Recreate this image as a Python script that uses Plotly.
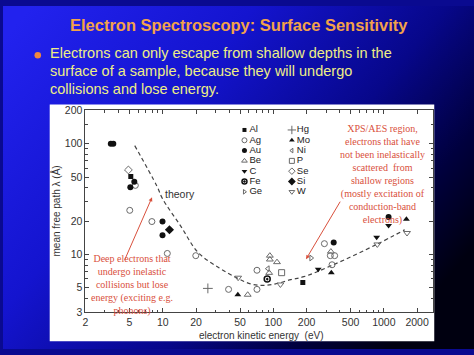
import base64
import math
import plotly.graph_objects as go

W, H = 474, 355

# ---------------- data ----------------
legend_col1 = ["Al", "Ag", "Au", "Be", "C", "Fe", "Ge"]
legend_col2 = ["Hg", "Mo", "Ni", "P", "Se", "Si", "W"]

al_energy = [5.14, 185]
al_path = [50.6, 5.57]
ag_energy = [5.65, 5.03, 7.98, 11.0, 19.9, 39.4, 71.2, 71.2, 290, 328, 359, 340]
ag_path = [42.0, 25.0, 19.8, 10.2, 9.74, 4.83, 7.19, 4.83, 12.5, 9.74, 9.74, 8.06]
au_energy = [3.39, 3.57, 5.53, 5.09, 9.95, 9.95, 352, 1104]
au_path = [100, 100, 45.2, 40.5, 19.8, 14.9, 12.8, 21.8]
be_energy = [58.7, 93.1, 93.1, 108, 91.8, 332]
be_path = [4.32, 9.74, 8.99, 8.51, 6.81, 10.6]
c_energy = [255, 861, 1104]
c_path = [7.34, 14.3, 18.2]
fe_energy = [88.1]
fe_path = [5.98]
ge_energy = [220]
ge_path = [9.28]
hg_energy = [25.6]
hg_path = [4.93]
mo_energy = [47.8, 335, 1600]
mo_path = [4.32, 6.81, 20.8]
ni_energy = [89.3]
ni_path = [7.43]
p_energy = [119]
p_path = [6.84]
se_energy = [4.89]
se_path = [57.9]
si_energy = [11.5]
si_path = [16.7]
w_energy = [48.1, 116, 873, 1621]
w_path = [6.16, 5.35, 12.3, 15.6]

theory_energy = [5.58, 8.85, 10.0, 14.5, 20.9, 32.5, 47.8, 62.9, 80.6, 105, 144, 189, 340, 861, 1545]
theory_path = [96, 41.4, 31.6, 18.1, 10.4, 7.54, 6.07, 5.40, 5.24, 5.42, 5.91, 6.29, 7.96, 12.3, 16.7]

x_tick_values = [2, 5, 10, 20, 50, 100, 200, 500, 1000, 2000]
x_minor_values = [3, 4, 6, 7, 8, 9, 30, 40, 60, 70, 80, 90, 300, 400, 600, 700, 800, 900]
y_tick_values = [3, 5, 10, 20, 50, 100, 200]
y_minor_values = [4, 6, 7, 8, 9, 30, 40, 60, 70, 80, 90, 150]

series = {
    "Al": (al_energy, al_path), "Ag": (ag_energy, ag_path), "Au": (au_energy, au_path),
    "Be": (be_energy, be_path), "C": (c_energy, c_path), "Fe": (fe_energy, fe_path),
    "Ge": (ge_energy, ge_path), "Hg": (hg_energy, hg_path), "Mo": (mo_energy, mo_path),
    "Ni": (ni_energy, ni_path), "P": (p_energy, p_path), "Se": (se_energy, se_path),
    "Si": (si_energy, si_path), "W": (w_energy, w_path),
}

# ---------------- styles ----------------
BLACK = "#111111"
GRAY = "#6a6a6a"
styles = {
    "Al": dict(symbol="square", size=5, color=BLACK, line=dict(width=0)),
    "Ag": dict(symbol="circle-open", size=6, color=GRAY, line=dict(width=1, color=GRAY)),
    "Au": dict(symbol="circle", size=6, color=BLACK, line=dict(width=0)),
    "Be": dict(symbol="triangle-up-open", size=6, color=GRAY, line=dict(width=1, color=GRAY)),
    "C": dict(symbol="triangle-down", size=6, color=BLACK, line=dict(width=0)),
    "Fe": dict(symbol="circle-open-dot", size=6, color=BLACK, line=dict(width=1.5, color=BLACK)),
    "Ge": dict(symbol="triangle-right-open", size=5, color=GRAY, line=dict(width=1, color=GRAY)),
    "Hg": dict(symbol="cross-thin-open", size=7, color=GRAY, line=dict(width=1, color=GRAY)),
    "Mo": dict(symbol="triangle-up", size=6, color=BLACK, line=dict(width=0)),
    "Ni": dict(symbol="triangle-left-open", size=5, color=GRAY, line=dict(width=1, color=GRAY)),
    "P": dict(symbol="square-open", size=6, color=GRAY, line=dict(width=1, color=GRAY)),
    "Se": dict(symbol="diamond-open", size=6, color=GRAY, line=dict(width=1, color=GRAY)),
    "Si": dict(symbol="diamond", size=7, color=BLACK, line=dict(width=0)),
    "W": dict(symbol="triangle-down-open", size=6, color=GRAY, line=dict(width=1, color=GRAY)),
}


def px(x):
    return x / W


def py(y):
    return 1 - y / H


fig = go.Figure()

# theory curve
fig.add_trace(go.Scatter(
    x=theory_energy, y=theory_path, mode="lines", line_shape="spline",
    line=dict(color="#444444", width=1.2, dash="4px,3px"), showlegend=False,
    hoverinfo="skip"))

for name, (ex, lam) in series.items():
    fig.add_trace(go.Scatter(x=ex, y=lam, mode="markers", marker=styles[name],
                             showlegend=False, name=name))

SANS = "Liberation Sans, Arial, sans-serif"
SERIF = "Liberation Serif, Times New Roman, serif"
RED = "#d9503c"

# legend drawn on its own hidden axes (rows x columns); labels on a shifted twin axis
for col, names in enumerate([legend_col1, legend_col2]):
    rows = list(range(len(names)))
    for row, name in enumerate(names):
        st = dict(styles[name])
        st["size"] = max(st["size"] - 1, 4)
        fig.add_trace(go.Scatter(x=[col], y=[row], xaxis="x2", yaxis="y2",
                                 mode="markers", marker=st, showlegend=False,
                                 cliponaxis=False, hoverinfo="skip"))
    fig.add_trace(go.Scatter(x=[col] * len(names), y=rows, xaxis="x3", yaxis="y2",
                             mode="text", text=names, textposition="middle right",
                             textfont=dict(size=9.5, color="#222222", family=SANS),
                             showlegend=False, cliponaxis=False, hoverinfo="skip"))

annotations = []
# slide texts
annotations += [
    dict(x=px(237), y=py(19.5), xref="paper", yref="paper", showarrow=False,
         text="<b>Electron Spectroscopy: Surface Sensitivity</b>",
         xanchor="center", yanchor="middle",
         font=dict(size=16.5, color="#f2a24a", family=SANS)),
]
bullet_lines = ["Electrons can only escape from shallow depths in the",
                "surface of a sample, because they will undergo",
                "collisions and lose energy."]
for i, line in enumerate(bullet_lines):
    annotations.append(dict(x=px(45), y=py(48.5 + 18.8 * i), xref="paper", yref="paper",
                            showarrow=False, text=line, xanchor="left", yanchor="middle",
                            font=dict(size=14.5, color="#eeee86", family=SANS)))

# axis titles and chart notes
annotations += [
    dict(x=px(53), y=py(212), xref="paper", yref="paper", showarrow=False,
         text="mean free path λ (Å)", textangle=-90, xanchor="center", yanchor="middle",
         font=dict(size=10, color="#333333", family=SANS)),
    dict(x=px(260), y=py(341), xref="paper", yref="paper", showarrow=False,
         text="electron kinetic energy  (eV)", xanchor="center", yanchor="middle",
         font=dict(size=10, color="#333333", family=SANS)),
    dict(x=px(161), y=py(194.5), xref="paper", yref="paper", showarrow=False,
         text="theory", xanchor="left", yanchor="middle",
         font=dict(size=10.5, color="#333333", family=SANS)),
    dict(x=px(382), y=py(174), xref="paper", yref="paper", showarrow=False,
         text="XPS/AES region,<br>electrons that have<br>not been inelastically<br>"
              "scattered  from<br>shallow regions<br>(mostly excitation of<br>"
              "conduction-band<br>electrons)",
         xanchor="center", yanchor="middle", align="center",
         font=dict(size=10, color=RED, family=SERIF)),
    dict(x=px(130), y=py(289), xref="paper", yref="paper", showarrow=False,
         text="Deep electrons that<br>undergo inelastic<br>collisions but lose<br>"
              "energy (exciting e.g.<br>phonons)",
         xanchor="center", yanchor="middle", align="center",
         font=dict(size=10, color=RED, family=SERIF)),
    # arrows
    dict(x=px(150), y=py(198), xref="paper", yref="paper", text="", showarrow=True,
         ax=-28, ay=64, arrowhead=2, arrowsize=0.8, arrowwidth=1, arrowcolor=RED),
    dict(x=px(305), y=py(262), xref="paper", yref="paper", text="", showarrow=True,
         ax=35, ay=-59, arrowhead=2, arrowsize=0.8, arrowwidth=1, arrowcolor=RED),
]

# background gradient (slide)
svg = (
    '<svg xmlns="http://www.w3.org/2000/svg" width="474" height="355" preserveAspectRatio="none">'
    '<defs><linearGradient id="g" x1="0" y1="0.1" x2="1" y2="0.7">'
    '<stop offset="0" stop-color="#2222ee"/>'
    '<stop offset="0.35" stop-color="#1414cf"/>'
    '<stop offset="0.65" stop-color="#07078a"/>'
    '<stop offset="0.85" stop-color="#00003e"/>'
    '<stop offset="1" stop-color="#000010"/>'
    '</linearGradient></defs><rect width="474" height="355" fill="url(#g)"/></svg>'
)
bg_uri = "data:image/svg+xml;base64," + base64.b64encode(svg.encode()).decode()

shapes = [
    dict(type="rect", xref="paper", yref="paper", x0=px(47), x1=px(434), y0=py(347), y1=py(102),
         fillcolor="white", line=dict(width=0), layer="below"),
    dict(type="circle", xref="paper", yref="paper", x0=px(31.7), x1=px(38.3), y0=py(54.3), y1=py(47.7),
         fillcolor="#f0883e", line=dict(width=0)),
]

axis_common = dict(
    type="log", showgrid=False, zeroline=False, showline=True, linecolor="#444444", linewidth=1,
    mirror="ticks", ticks="inside", ticklen=4, tickcolor="#444444", tickwidth=1,
    tickfont=dict(size=10.5, color="#333333", family=SANS),
)

fig.update_layout(
    width=W, height=H, margin=dict(l=0, r=0, t=0, b=0, pad=0),
    paper_bgcolor="#0a0a90", plot_bgcolor="rgba(0,0,0,0)",
    showlegend=False,
    xaxis=dict(axis_common, domain=[83 / W, 433 / W],
               range=[math.log10(2), math.log10(2800)],
               tickvals=x_tick_values, ticktext=[str(v) for v in x_tick_values],
               minor=dict(tickvals=x_minor_values, ticks="inside", ticklen=2.5,
                          tickcolor="#444444")),
    yaxis=dict(axis_common, domain=[1 - 317 / H, 1 - 108 / H],
               range=[math.log10(3), math.log10(200)],
               tickvals=y_tick_values, ticktext=[str(v) for v in y_tick_values],
               minor=dict(tickvals=y_minor_values, ticks="inside", ticklen=2.5,
                          tickcolor="#444444")),
    xaxis2=dict(domain=[243 / W, 290.7 / W], range=[0, 1], visible=False, anchor="y2",
                fixedrange=True),
    xaxis3=dict(domain=[(243 + 5) / W, (290.7 + 5) / W], range=[0, 1], visible=False,
                anchor="y2", fixedrange=True),
    yaxis2=dict(domain=[1 - 192.3 / H, 1 - 128.3 / H], range=[6, 0], visible=False,
                anchor="x2", fixedrange=True),
    images=[dict(source=bg_uri, xref="paper", yref="paper", x=0, y=1, sizex=1, sizey=1,
                 xanchor="left", yanchor="top", sizing="stretch", layer="below")],
    shapes=shapes,
    annotations=annotations,
)

fig.write_html("out.html", config={"displayModeBar": False},
               post_script="document.body.style.margin='0';"
                           "document.body.style.overflow='hidden';")
